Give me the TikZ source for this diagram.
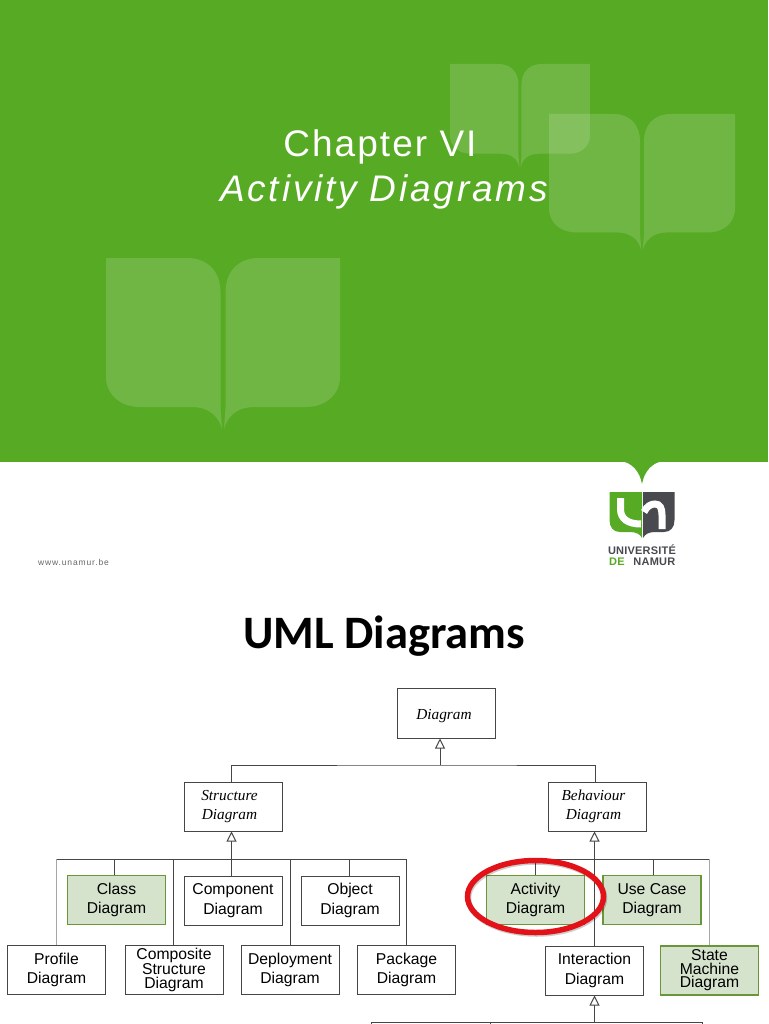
\documentclass[tikz,border=0pt]{standalone}
\usepackage{fontspec}
\setmainfont{Liberation Sans}
\newfontfamily\chapfont[LetterSpace=5.5]{Liberation Sans}
\newfontfamily\subjfont[LetterSpace=7.5]{Liberation Sans}
\newfontfamily\wwwfont[LetterSpace=10]{Liberation Sans}
\newfontfamily\logofont[LetterSpace=2]{Liberation Sans}
\newfontfamily\headfont{Carlito}
\newfontfamily\absfont{Liberation Serif}
\usetikzlibrary{arrows.meta}
\definecolor{unagreen}{RGB}{87,170,36}
\definecolor{unagray}{RGB}{72,74,80}
\definecolor{boxline}{RGB}{70,70,70}
\definecolor{hilitefill}{RGB}{213,227,205}
\definecolor{hiliteline}{RGB}{104,150,56}
\definecolor{ringred}{RGB}{226,18,24}
\tikzset{
  umlbox/.style={draw=boxline,line width=1pt,fill=white,inner sep=0pt,align=center,
    minimum width=#1,minimum height=49pt,font=\fontsize{15.7}{19.5}\selectfont,
    execute at begin node={\rule{0pt}{16pt}}},
  umlbox/.default=98pt,
  absbox/.style={umlbox,font=\absfont\itshape\fontsize{15.3}{19}\selectfont},
  tightbox/.style={umlbox,font=\fontsize{15.7}{13.6}\selectfont},
  hilite/.style={draw=hiliteline,line width=1.6pt,fill=hilitefill},
  bus/.style={draw=boxline,line width=1pt},
  palebus/.style={draw=black!35,line width=1pt},
  isa/.style={bus,-{Triangle[open,length=10pt,width=10pt,fill=white]}},
  leaf/.style={fill=white,fill opacity=0.15}
}
\newcommand{\leafpages}{
  \path[leaf] (0,0) -- (81,0) .. controls (103,0) and (114.5,15) .. (114.5,34)
    -- (114.5,150) -- (116,171) .. controls (113,160) and (105,149) .. (85,149)
    -- (34,149) .. controls (14,149) and (0,136) .. (0,119) -- cycle;
  \path[leaf] (234,0) -- (153,0) .. controls (131,0) and (119.5,15) .. (119.5,34)
    -- (119.5,150) -- (118,171) .. controls (121,160) and (129,149) .. (149,149)
    -- (200,149) .. controls (220,149) and (234,136) .. (234,119) -- cycle;
}
\begin{document}
\begin{tikzpicture}[x=1pt,y=-1pt]
  \useasboundingbox (0,0) rectangle (768,1024);
  \fill[white] (0,0) rectangle (768,1024);

  % title slide
  \fill[unagreen] (0,0) rectangle (768,461.5);
  \fill[unagreen] (620,461) .. controls (632,462) and (640,472) .. (642,484)
    .. controls (644,472) and (652,462) .. (664,461) -- cycle;
  \foreach \lx/\ly/\sx/\sy in {106/258/1/1,450/64/0.598/0.602,549/114/0.795/0.795} {
    \begin{scope}[shift={(\lx,\ly)},xscale=\sx,yscale=\sy]
      \leafpages
    \end{scope}
  }
  \node[white,anchor=base] (chapter) at (380,157) {\chapfont\fontsize{37}{37}\selectfont Chapter VI};
  \node[white,anchor=base] (subject) at (384,202) {\subjfont\itshape\fontsize{37}{37}\selectfont Activity Diagrams};
  \node[black!60,anchor=base] (www) at (73.5,565) {\wwwfont\fontsize{8.5}{8.5}\selectfont www.unamur.be};

  % logo
  \fill[unagreen] (609.5,492) -- (642,492) -- (642,538) .. controls (640,534) and (636,532) .. (630,532)
    -- (620,532) .. controls (613,532) and (609.5,527) .. (609.5,520) -- cycle;
  \fill[unagray] (674.5,492) -- (643,492) -- (643,538) .. controls (645,534) and (649,532) .. (655,532)
    -- (664,532) .. controls (671,532) and (674.5,527) .. (674.5,520) -- cycle;
  \draw[white,line width=7pt] (620.5,498) -- (620.5,509) .. controls (620.5,519) and (628,524) .. (641,524);
  \draw[white,line width=7pt] (644,512) .. controls (647,506) and (651,504) .. (655,504)
    .. controls (660,504) and (662,508) .. (662,515) -- (662,529);
  \node[unagray,anchor=base] (univ) at (642,554) {\logofont\bfseries\fontsize{11}{11}\selectfont UNIVERSITÉ};
  \node[unagreen,anchor=base west,inner sep=0pt] (de) at (609,565) {\logofont\bfseries\fontsize{11}{11}\selectfont DE};
  \node[unagray,anchor=base east,inner sep=0pt] (namur) at (675.5,565) {\logofont\bfseries\fontsize{11}{11}\selectfont NAMUR};

  \node[anchor=base] (heading) at (384,648) {\headfont\bfseries\fontsize{46.5}{46.5}\selectfont UML Diagrams};

  % first levels
  \node[absbox,minimum height=50pt] (diagram) at (446,713) {\kern-4pt Diagram};
  \node[absbox] (structure) at (233,806.5) {\kern-7pt Structure\\\kern-7pt Diagram};
  \node[absbox] (behaviour) at (597,806.5) {\kern-7pt Behaviour\\\kern-7pt Diagram};

  % kinds of structure
  \node[umlbox,hilite] (class) at (116.5,900) {Class\\Diagram};
  \node[umlbox] (component) at (233,900.5) {Component\\Diagram};
  \node[umlbox] (object) at (350,900.5) {Object\\Diagram};
  \node[umlbox] (profile) at (56.5,970) {Profile\\Diagram};
  \node[tightbox] (composite) at (174,970) {Composite\\Structure\\Diagram};
  \node[umlbox] (deployment) at (290,970) {Deployment\\Diagram};
  \node[umlbox] (package) at (406.5,970) {Package\\Diagram};

  % kinds of behaviour
  \node[umlbox,hilite] (activity) at (535.5,900) {Activity\\Diagram};
  \node[umlbox,hilite] (usecase) at (652,900) {Use Case\\Diagram};
  \node[umlbox] (interaction) at (594.5,970.5) {Interaction\\Diagram};
  \node[tightbox,hilite] (state) at (709.5,970.5) {State\\Machine\\Diagram};

  \coordinate (rootbus) at (440,765);
  \coordinate (strbus) at (231.5,859);
  \coordinate (behbus) at (594.5,859);
  \coordinate (intbus) at (594.5,1022.7);

  \draw[bus] ([xshift=-1.5pt]structure.north) |- (rootbus) -| ([xshift=-2pt]behaviour.north);
  \draw[isa] (rootbus) -- (rootbus |- diagram.south);
  \draw[isa] (strbus) -- (strbus |- structure.south);
  \draw[palebus] (profile.north) -- (profile.north |- strbus);
  \draw[bus] (profile.north |- strbus) -- (strbus) -| ([xshift=-1pt]object.north);
  \draw[bus] (strbus) -| (package.north);
  \foreach \kid/\off in {class/-2,composite/-1,component/-1.5,deployment/0} {
    \draw[bus] ([xshift=\off pt]\kid.north |- strbus) -- ([xshift=\off pt]\kid.north);
  }
  \draw[isa] (interaction.north) -- (behbus) -- (behbus |- behaviour.south);
  \draw[bus] (activity.north) |- (behbus) -| ([xshift=1pt]usecase.north);
  \draw[bus] (behbus) -- (state.north |- behbus);
  \draw[palebus] (state.north |- behbus) -- (state.north);

  % next level is cut off by the page
  \draw[isa] (intbus) -- (intbus |- interaction.south);
  \coordinate (intleft) at (371.5,1024);
  \coordinate (intright) at (702,1024);
  \coordinate (intmid) at (490,1024);
  \draw[bus] (intleft) |- (intbus) -| (intright);
  \draw[bus] (intmid) -- (intmid |- intbus);

  % the mark round the activity box
  \draw[black,opacity=0.2,line width=5.5pt] (536.5,898) ellipse (68pt and 36pt);
  \draw[ringred,line width=5.5pt] (535.5,896.5) ellipse (68pt and 36pt);
\end{tikzpicture}
\end{document}
